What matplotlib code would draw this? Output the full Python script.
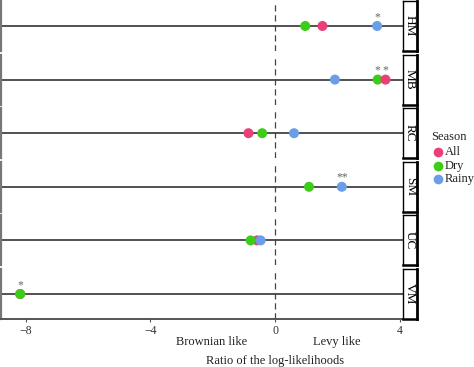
import matplotlib
matplotlib.use("Agg")
import matplotlib.pyplot as plt
import numpy as np

plt.rcParams['font.family'] = ['Liberation Serif', 'DejaVu Serif']

# data
sites = ["HM", "MB", "RC", "SM", "UC", "VM"]
seasons = ["All", "Dry", "Rainy"]
colors = {"All": "#EA3F78", "Dry": "#3DCC1A", "Rainy": "#6A9EE8"}
ratio_all = [1.51, 3.53, -0.86, np.nan, -0.58, -8.17]
ratio_dry = [0.96, 3.28, -0.42, 1.08, -0.79, -8.17]
ratio_rainy = [3.26, 1.91, 0.60, 2.13, -0.47, np.nan]
# significance marks: (site, value, label)
stars = [("HM", 3.26, "*"), ("MB", 3.28, "*"), ("MB", 3.53, "*"),
         ("SM", 2.13, "**"), ("VM", -8.17, "*")]
xticks = [-8, -4, 0, 4]

vals = {"All": ratio_all, "Dry": ratio_dry, "Rainy": ratio_rainy}

W, H = 474, 367
fig = plt.figure(figsize=(W/100, H/100), dpi=100)

left, right = 1, 403
top0, ph, step = 1, 50, 53.6
xlim = (-8.785, 4.09)

for i, site in enumerate(sites):
    y0 = top0 + i*step
    ax = fig.add_axes([left/W, 1 - (y0+ph)/H, (right-left)/W, ph/H])
    ax.set_xlim(xlim)
    ax.set_ylim(-1, 1)
    ax.axhline(0, color="#222222", lw=1.1, zorder=1)
    ax.axvline(0, color="#444444", lw=0.9, ls=(0, (5, 3)), zorder=1)
    for s in seasons:
        v = vals[s][i]
        if np.isnan(v):
            continue
        z = 3 + seasons.index(s)
        if site == "MB" and s == "All":
            z = 6
        ax.scatter([v], [0], s=52, color=colors[s], zorder=z, edgecolors="none")
    for st_site, st_v, lab in stars:
        if st_site == site:
            ax.text(st_v, 0.36, lab, ha="center", va="center", fontsize=8.5, color="#666666")
    for sp in ["top", "right"]:
        ax.spines[sp].set_visible(False)
    ax.spines["left"].set_color("#777777")
    ax.spines["left"].set_linewidth(1.6)
    ax.set_yticks([])
    if i < len(sites) - 1:
        ax.spines["bottom"].set_visible(False)
        ax.set_xticks([])
    else:
        ax.spines["bottom"].set_color("#555555")
        ax.spines["bottom"].set_linewidth(1.4)
        ax.set_xticks(xticks)
        ax.set_xticklabels(["\u22128", "\u22124", "0", "4"])
        ax.tick_params(axis="x", length=2.5, width=0.8, color="#555555",
                       labelsize=8.5, pad=1.5, labelcolor="#333333")
    # strip on the right
    sax = fig.add_axes([403/W, 1 - (y0+ph)/H, 14/W, ph/H])
    sax.set_xticks([])
    sax.set_yticks([])
    for sp in sax.spines.values():
        sp.set_color("black")
        sp.set_linewidth(1.0)
    sax.spines["right"].set_linewidth(2.0)
    sax.spines["bottom"].set_linewidth(1.8)
    sax.text(0.5, 0.5, site, rotation=-90, ha="center", va="center",
             fontsize=9.5, transform=sax.transAxes)

# x axis labels
fig.text(212/W, 1 - 342/H, "Brownian like", ha="center", va="center", fontsize=9, color="#222222")
fig.text(337/W, 1 - 342/H, "Levy like", ha="center", va="center", fontsize=9, color="#222222")
fig.text(275/W, 1 - 361/H, "Ratio of the log-likelihoods", ha="center", va="center", fontsize=9, color="#222222")

# legend
fig.text(431/W, 1 - 137/H, "Season", ha="left", va="center", fontsize=9, color="#222222")
for k, s in enumerate(seasons):
    yy = 1 - (152 + k*13.7)/H
    fig.add_artist(plt.Line2D([438/W], [yy], marker="o", markersize=7, color=colors[s],
                              markeredgewidth=0, transform=fig.transFigure))
    fig.text(445/W, yy, s, ha="left", va="center", fontsize=9, color="#222222")

fig.savefig("out.png", dpi=100)
